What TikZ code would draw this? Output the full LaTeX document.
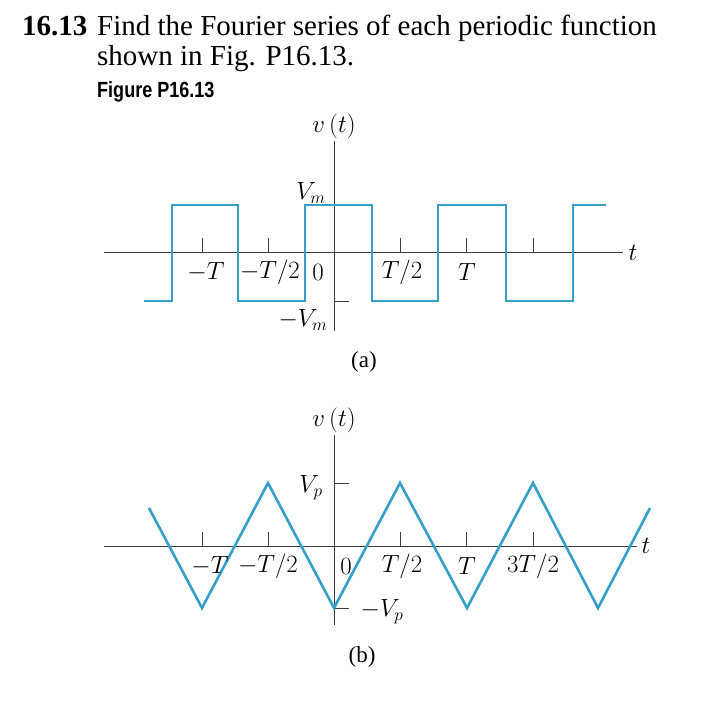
\documentclass[tikz,border=0pt]{standalone}
\usepackage{fontspec}
\setmainfont{Liberation Serif}
\newfontfamily\figfont{Liberation Sans}[FakeStretch=0.82]
\definecolor{wave}{RGB}{52,160,200}
\definecolor{ax}{RGB}{60,60,60}
\begin{document}
\begin{tikzpicture}[x=1pt,y=-1pt,
  axis/.style={draw=ax,line width=1pt},
  wv/.style={draw=wave,line width=2.6pt,line join=miter},
  lbl/.style={inner sep=0pt,font=\fontsize{23}{26}\selectfont},
  hd/.style={inner sep=0pt,anchor=base west,font=\fontsize{29}{32}\selectfont}]
\useasboundingbox (0,0) rectangle (711,701);
% header
\node[hd] (num) at (22,36) {\textbf{16.13}};
\node[hd] (l1) at (97,36) {Find the Fourier series of each periodic function};
\node[hd] (l2) at (97,66) {shown in Fig. P16.13.};
\node[hd,font=\fontsize{22}{24}\figfont\bfseries] (fig) at (97,97) {Figure P16.13};
% (a)
\draw[axis] (104,252) -- (623,252);
\draw[axis] (334,141) -- (334,331);
\foreach \x in {202,268,400,466,533} \draw[axis] (\x,252) -- (\x,238);
\draw[axis] (334,301) -- (349,301);
\draw[wv] (144,301) -- (172,301) -- (172,205) -- (238,205) -- (238,301) -- (305,301) -- (305,205) -- (372,205) -- (372,301) -- (438,301) -- (438,205) -- (506,205) -- (506,301) -- (573,301) -- (573,205) -- (606,205);
\node[lbl] (ta) at (633,253) {$t$};
\node[lbl] (va) at (334,126) {$v\,(t)$};
\node[lbl] (vm) at (311,193) {$V_m$};
\node[lbl] (mvm) at (303,320) {$-V_m$};
\node[lbl] (a1) at (206,272) {$-T$};
\node[lbl] (a2) at (270,272) {$-T/2$};
\node[lbl] (a3) at (318,272) {$0$};
\node[lbl] (a4) at (402,272) {$T/2$};
\node[lbl] (a5) at (467,272) {$T$};
\node[lbl] (ca) at (364,362) {(a)};
% (b)
\draw[axis] (104,546) -- (637,546);
\draw[axis] (334,435) -- (334,625);
\foreach \x in {202,268,400,466,533} \draw[axis] (\x,546) -- (\x,532);
\draw[axis] (334,483) -- (349,483);
\draw[axis] (334,608) -- (349,608);
\draw[wv] (149,508) -- (202,608) -- (268,483) -- (334,608) -- (400,483) -- (467,608) -- (533,483) -- (598,608) -- (650,508);
\node[lbl] (tb) at (646,546) {$t$};
\node[lbl] (vb) at (334,420) {$v\,(t)$};
\node[lbl] (vp) at (311,488) {$V_p$};
\node[lbl] (mvp) at (382,612) {$-V_p$};
\node[lbl] (b1) at (210,566) {$-T$};
\node[lbl] (b2) at (268,566) {$-T/2$};
\node[lbl] (b3) at (346,566) {$0$};
\node[lbl] (b4) at (402,566) {$T/2$};
\node[lbl] (b5) at (467,566) {$T$};
\node[lbl] (b6) at (533,566) {$3T/2$};
\node[lbl] (cb) at (362,657) {(b)};
\end{tikzpicture}
\end{document}
